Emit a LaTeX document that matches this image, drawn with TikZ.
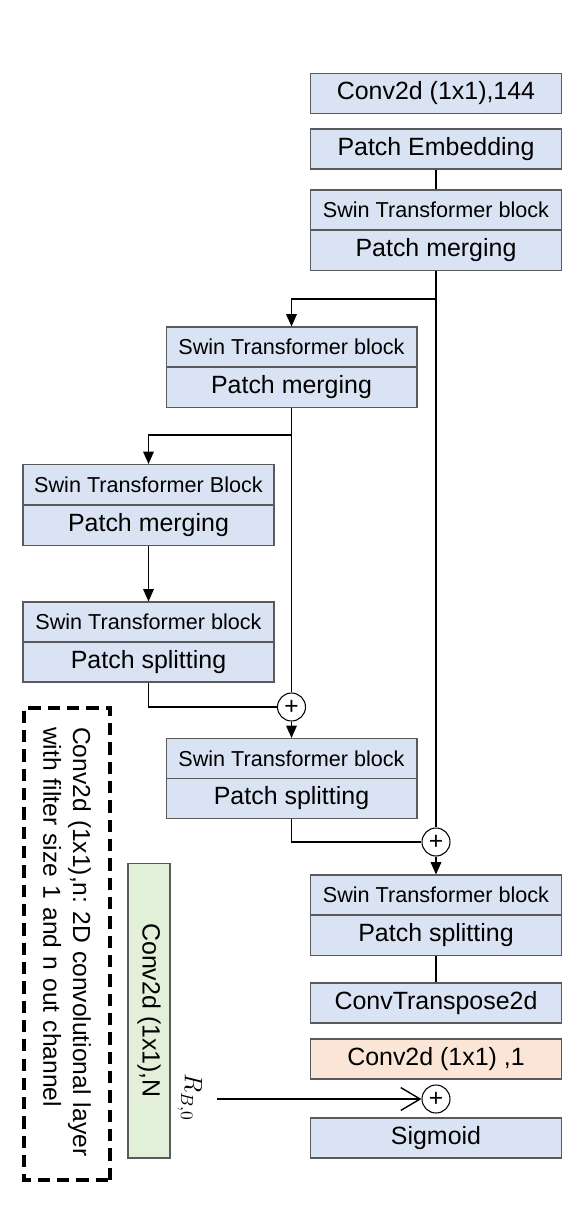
\documentclass[tikz,border=0pt]{standalone}
\usepackage{fontspec}
\setmainfont{Liberation Sans}
\usetikzlibrary{arrows.meta}

\definecolor{azulcaja}{RGB}{218,227,243}
\definecolor{naranjacaja}{RGB}{251,229,214}
\definecolor{verdecaja}{RGB}{226,240,217}
\definecolor{borde}{RGB}{90,90,90}

\tikzset{
  caja/.style={draw=borde, fill=azulcaja, line width=0.6pt, minimum width=5.02cm,
    minimum height=0.8cm, inner sep=0pt, font=\fontsize{14.2}{17}\selectfont},
  cajaswin/.style={caja, font=\fontsize{12.3}{15}\selectfont},
  suma/.style={circle, draw=black, fill=white, line width=0.6pt, minimum size=0.56cm,
    inner sep=0pt, font=\fontsize{14}{17}\selectfont},
  flecha/.style={line width=0.8pt, -{Triangle[length=7pt,width=6pt]}},
  linea/.style={line width=0.8pt},
}

\begin{document}
\begin{tikzpicture}[x=0.02cm, y=-0.02cm]
        \useasboundingbox (0,0) rectangle (578,1219);

        % Entrada: convolucion y embedding.
        \node[caja] (conv144) at (436,93.5) {Conv2d (1x1),144};
        \node[caja] (embed) at (436,149) {Patch Embedding};

        % Codificador: bloques con patch merging.
        \node[cajaswin] (swin1) at (436,210) {Swin Transformer block};
        \node[caja] (merge1) at (436,250.5) {Patch merging};
        \node[cajaswin] (swin2) at (291.5,347) {Swin Transformer block};
        \node[caja] (merge2) at (291.5,387.5) {Patch merging};
        \node[cajaswin] (swin3) at (148.5,484.5) {Swin Transformer Block};
        \node[caja] (merge3) at (148.5,525.5) {Patch merging};

        % Decodificador: bloques con patch splitting.
        \node[cajaswin] (swin4) at (148.5,622) {Swin Transformer block};
        \node[caja] (split4) at (148.5,662) {Patch splitting};
        \node[cajaswin] (swin5) at (291.5,758.5) {Swin Transformer block};
        \node[caja] (split5) at (291.5,798.5) {Patch splitting};
        \node[cajaswin] (swin6) at (436,895) {Swin Transformer block};
        \node[caja] (split6) at (436,935.5) {Patch splitting};

        % Salida.
        \node[caja] (deconv) at (436,1003) {ConvTranspose2d};
        \node[caja, fill=naranjacaja] (conv1) at (436,1059) {Conv2d (1x1) ,1};
        \node[caja] (sigmoid) at (436,1138) {Sigmoid};

        % Nodos de suma.
        \node[suma] (sum1) at (291.5,707) {+};
        \node[suma] (sum2) at (436,842) {+};
        \node[suma] (sum3) at (436,1099) {+};

        % Bifurcaciones.
        \coordinate (fork1) at (436,299);
        \coordinate (fork2) at (291.5,435);
        \coordinate (rin) at (217,1099);

        % Conexiones.
        \draw[linea] (embed) -- (swin1);
        \draw[linea] (merge1.south) -- (sum2.north);
        \draw[flecha] (fork1) -| (swin2.north);
        \draw[linea] (merge2.south) -- (sum1.north);
        \draw[flecha] (fork2) -| (swin3.north);
        \draw[flecha] (merge3) -- (swin4);
        \draw[linea] (split4.south) |- (sum1.west);
        \draw[flecha] (sum1) -- (swin5);
        \draw[linea] (split5.south) |- (sum2.west);
        \draw[flecha] (sum2) -- (swin6);
        \draw[linea] (split6) -- (deconv);
        \draw[linea, -{Straight Barb[length=11pt,width=13pt]}] (rin) -- (sum3.west);

        % Rama lateral y etiqueta.
        \node[draw=borde, fill=verdecaja, line width=0.6pt, rotate=-90, minimum width=5.9cm,
          minimum height=0.84cm, inner sep=0pt, font=\fontsize{14.2}{17}\selectfont]
          (convN) at (149,1010.5) {Conv2d (1x1),N};
        \node[rotate=-90, font=\fontsize{14}{17}\selectfont] (rb0) at (190,1097) {$R_{B,0}$};

        % Leyenda.
        \node[draw=black, line width=2.2pt, dash pattern=on 7pt off 4pt, rotate=-90,
          minimum width=9.44cm, minimum height=1.72cm, inner xsep=0.38cm, inner ysep=0pt,
          text width=8.68cm, align=left, font=\fontsize{14}{17}\selectfont\frenchspacing]
          (nota) at (67,944) {Conv2d (1x1),n: 2D convolutional layer\\with filter size 1 and n out channel};
\end{tikzpicture}
\end{document}
